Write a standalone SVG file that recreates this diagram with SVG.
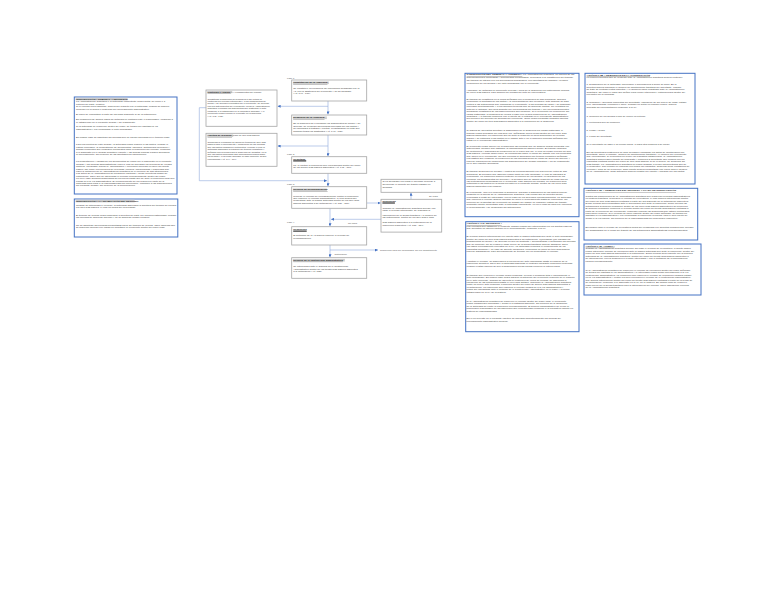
<svg xmlns="http://www.w3.org/2000/svg" width="768" height="594" viewBox="0 0 768 594">
<defs>
<style>
.bb{fill:#fff;stroke:#4472c4;stroke-width:1}
.gb{fill:#fff;stroke:#a6a6a6;stroke-width:0.8}
.t{font-family:"Liberation Sans",Arial,sans-serif;font-size:2.5px;fill:#3a3a3a}
.s{font-size:2.3px}
.h{font-weight:bold;fill:#222}
.u{text-decoration:underline}
.hl{fill:#cfcfcf}
.bar{fill:#111}
.lbl{font-family:"Liberation Sans",Arial,sans-serif;font-size:2.4px;fill:#555}
.c{fill:none;stroke:#8faadc;stroke-width:0.6}
</style>
<marker id="ah" viewBox="0 0 6 6" refX="6" refY="3" markerWidth="3" markerHeight="3" orient="auto" markerUnits="userSpaceOnUse">
<path d="M0,0 L6,3 L0,6 z" fill="#4472c4"/>
</marker>
</defs>
<rect width="768" height="594" fill="#fff"/>

<g id="connectors">
<path class="c" d="M328,101 V114.4" marker-end="url(#ah)"/>
<path class="c" d="M328,106.3 H277.6" marker-end="url(#ah)"/>
<path class="c" d="M328,135 V156.2" marker-end="url(#ah)"/>
<path class="c" d="M328,146 H277.6" marker-end="url(#ah)"/>
<path class="c" d="M206,107.7 H199.3 V180.7 H327" marker-end="url(#ah)"/>
<path class="c" d="M328,173.3 V186.2" marker-end="url(#ah)"/>
<path class="c" d="M330,208.3 V226.2" marker-end="url(#ah)"/>
<path class="c" d="M366.7,203 H380.6" marker-end="url(#ah)"/>
<path class="c" d="M381,219.3 H331" marker-end="url(#ah)"/>
<path class="c" d="M411,199.3 V192.8" marker-end="url(#ah)"/>
<path class="c" d="M330,245 V257.2" marker-end="url(#ah)"/>
<path class="c" d="M330,250 H378" marker-end="url(#ah)"/>
<text class="lbl" x="348" y="224">No logra</text>
<text class="lbl" x="429" y="196.6">Se logra</text>
<text class="lbl" x="334.5" y="254.6">Notificación</text>
<text class="lbl" x="380" y="250.8">Resolución para ser confirmada, No por desistimiento</text>
<text class="lbl" x="287" y="78.6">Fase 1</text>
<text class="lbl" x="287" y="154.6">Fase 2</text>
<text class="lbl" x="287" y="184.6">Fase 3</text>
<text class="lbl" x="287" y="222.8">Fase 4</text>
</g>

<g id="intro-tribunal">
<rect class="bb" x="74.3" y="97" width="102.7" height="97"/>
<rect class="hl" x="75.6" y="97.7" width="52" height="2.6"/>
<text class="t">
<tspan class="h" x="76" y="99.8">INTRODUCCIÓN * TRIBUNAL Y RECURSOS</tspan>
<tspan x="76" y="102.4">La Administración Tributaria o la autoridad competente podrá dictar, de oficio o a</tspan>
<tspan x="76" y="104.8">petición de parte, positivo.</tspan>
<tspan x="76" y="107.2">Si el recurso fuera admitido, deberá ser resuelto por la autoridad, cuando se hubiere</tspan>
<tspan x="76" y="109.6">incurrido en la forma o contenido del procedimiento administrativo.</tspan>
<tspan x="76" y="114.6">El plazo se computará a partir del día hábil siguiente al de la notificación.</tspan>
<tspan x="76" y="120.2">En cualquiera de ambos casos se notificará al contribuyente o responsable, conforme a</tspan>
<tspan x="76" y="122.6">lo establecido en el presente Código y su reglamento.</tspan>
<tspan x="76" y="127.4">Si la autoridad no resolviere dentro del plazo, se tendrá por agotada la vía</tspan>
<tspan x="76" y="129.8">administrativa y por confirmado el acto impugnado.</tspan>
<tspan x="76" y="137.8">En ningún caso se admitirán las pruebas que no fueran ofrecidas en el término legal.</tspan>
<tspan x="76" y="145.4">Para los efectos de este Código, la autoridad podrá requerir a las partes, cuando lo</tspan>
<tspan x="76" y="147.8">estime necesario, la presentación de documentos, informes, dictámenes periciales y</tspan>
<tspan x="76" y="150.2">demás elementos que considere pertinentes para la resolución del recurso, conforme</tspan>
<tspan x="76" y="152.6">a lo dispuesto en el Código Tributario vigente y las demás normas legales aplicables</tspan>
<tspan x="76" y="155">al procedimiento, sin perjuicio de las facultades de fiscalización.</tspan>
<tspan x="76" y="162.4">La presentación y calidad de los documentos se regirá por lo dispuesto en el presente</tspan>
<tspan x="76" y="164.8">Código y las normas administrativas, para lo cual se aplicarán los principios de verdad</tspan>
<tspan x="76" y="167.2">material, oficialidad, buena fe, informalismo y economía procesal en favor del sujeto</tspan>
<tspan x="76" y="169.6">pasivo; así como los principios de celeridad, eficacia, imparcialidad y publicidad que</tspan>
<tspan x="76" y="172">rigen la actuación de la Administración Tributaria en el ejercicio de sus atribuciones.</tspan>
<tspan x="76" y="174.4">Los actos de la Administración se presumen legítimos y serán ejecutivos desde su</tspan>
<tspan x="76" y="176.8">notificación, salvo que se interponga el recurso correspondiente dentro del plazo,</tspan>
<tspan x="76" y="179.2">en cuyo caso quedará suspendida su ejecución hasta que se dicte la resolución final que</tspan>
<tspan x="76" y="181.6">ponga fin a la vía administrativa. El incumplimiento de los plazos por parte de la</tspan>
<tspan x="76" y="184">autoridad dará lugar a la responsabilidad del funcionario, conforme a las disposiciones</tspan>
<tspan x="76" y="186.4">del presente Código, sin perjuicio de la incorporación.</tspan>
</text>
</g>

<g id="intro-tramitacion">
<rect class="bb" x="74.3" y="199" width="103.5" height="38"/>
<rect class="hl" x="75.6" y="199.7" width="59" height="2.6"/>
<text class="t">
<tspan class="h" x="76" y="201.8">INTRODUCCIÓN A LA TRAMITACIÓN DEL RECURSO</tspan>
<tspan x="76" y="205.8">Cuando se interponga el recurso, la autoridad dispondrá la apertura del término de prueba</tspan>
<tspan x="76" y="208.2">por diez días hábiles, el cual no podrá ser prorrogado.</tspan>
<tspan x="76" y="215.8">El término de prueba podrá ampliarse a solicitud de parte por razones justificadas, cuando</tspan>
<tspan x="76" y="218.2">las pruebas se hubieran ofrecido y no se hubieran podido producir.</tspan>
<tspan x="76" y="225.5">No se admitirán las pruebas presentadas fuera del término de prueba, salvo aquellas que</tspan>
<tspan x="76" y="227.9">se hubieran ofrecido por causa no imputable al recurrente dentro del plazo legal.</tspan>
</text>
</g>

<g id="contenido-analisis">
<rect class="gb" x="206" y="90" width="71" height="36.3"/>
<rect class="hl" x="207.2" y="90.8" width="25" height="2.4"/>
<text class="t s">
<tspan class="h u" x="207.5" y="92.6">Contenido y Análisis:</tspan><tspan> (A) Fundamentos del recurso</tspan>
<tspan x="207.5" y="99.6">Constituida la audiencia se procederá a dar lectura al</tspan>
<tspan x="207.5" y="102">contenido del recurso interpuesto y a los fundamentos de</tspan>
<tspan x="207.5" y="104.4">hecho y de derecho expuestos por el recurrente, de acuerdo</tspan>
<tspan x="207.5" y="106.8">con los antecedentes del expediente; luego la Administración</tspan>
<tspan x="207.5" y="109.2">Tributaria expondrá los argumentos que sustentan el acto,</tspan>
<tspan x="207.5" y="111.6">conforme a lo establecido en la normativa aplicable, y el</tspan>
<tspan x="207.5" y="114">recurrente podrá replicar lo expuesto en la audiencia</tspan>
<tspan x="207.5" y="117.4">(Art. 142 - 173).</tspan>
</text>
</g>

<g id="apertura-prueba">
<rect class="gb" x="206" y="133.3" width="71" height="33"/>
<rect class="hl" x="207.2" y="134.5" width="26" height="2.4"/>
<text class="t s">
<tspan class="h u" x="207.5" y="136.3">Apertura de la prueba:</tspan><tspan> Plazo de diez días hábiles</tspan>
<tspan x="207.5" y="143">Concluida la exposición se abrirá un término de diez días</tspan>
<tspan x="207.5" y="145.4">hábiles para el ofrecimiento y producción de las pruebas</tspan>
<tspan x="207.5" y="147.8">que las partes consideren pertinentes, vencido el cual la</tspan>
<tspan x="207.5" y="150.2">autoridad dispondrá la clausura del término probatorio y</tspan>
<tspan x="207.5" y="152.6">señalará nueva fecha para la audiencia de alegatos, en la</tspan>
<tspan x="207.5" y="155">que las partes formularán sus conclusiones finales sobre</tspan>
<tspan x="207.5" y="157.4">los hechos y el derecho aplicable al caso concreto, según</tspan>
<tspan x="207.5" y="159.8">corresponda (Art. 144 - 174).</tspan>
</text>
</g>

<g id="constitucion-audiencia">
<rect class="gb" x="291.7" y="80" width="75" height="21"/>
<rect class="hl" x="292.9" y="81.5" width="36" height="2.6"/>
<text class="t">
<tspan class="h u" x="293.2" y="83.4">Constitución de la Audiencia</tspan>
<tspan x="293.2" y="89.4">Se constituye en presencia del funcionario designado por la</tspan>
<tspan x="293.2" y="91.8">AT, con la asistencia del recurrente y de su abogado</tspan>
<tspan x="293.2" y="94.2">(Art. 140 - 170).</tspan>
</text>
</g>

<g id="desarrollo-audiencia">
<rect class="gb" x="291.7" y="115" width="75" height="20"/>
<rect class="hl" x="292.9" y="116.5" width="34" height="2.6"/>
<text class="t">
<tspan class="h u" x="293.2" y="118.4">Desarrollo de la Audiencia</tspan>
<tspan x="293.2" y="124.4">En la audiencia se expondrán los argumentos de hecho y de</tspan>
<tspan x="293.2" y="126.8">derecho, se recibirán las pruebas ofrecidas por las partes y</tspan>
<tspan x="293.2" y="129.2">se escuchará a testigos y peritos, levantándose un acta que</tspan>
<tspan x="293.2" y="131.6">firmarán todos los asistentes (Art. 143 - 175).</tspan>
</text>
</g>

<g id="resultado">
<rect class="gb" x="291.7" y="156.7" width="75" height="16.6"/>
<rect class="bar" x="293.2" y="160.4" width="13" height="1"/>
<text class="t">
<tspan class="h" x="293.2" y="159.6">Resultado</tspan>
<tspan x="293.2" y="165.6">La AT emitirá la resolución que corresponda dentro del plazo</tspan>
<tspan x="293.2" y="168">de los quince días hábiles siguientes (Art. 145 - 176).</tspan>
</text>
</g>

<g id="recurso-reconsideracion">
<rect class="gb" x="291.7" y="186.7" width="75" height="21.6"/>
<rect class="hl" x="292.9" y="188.5" width="34" height="2.6"/>
<text class="t">
<tspan class="h u" x="293.2" y="190.4">Recurso de Reconsideración</tspan>
<tspan x="293.2" y="196.6">Procede el recurso de reconsideración contra la resolución</tspan>
<tspan x="293.2" y="199">que resuelve el recurso administrativo, el cual deberá ser</tspan>
<tspan x="293.2" y="201.4">presentado ante la misma autoridad dentro de los diez días</tspan>
<tspan x="293.2" y="203.8">hábiles siguientes a su notificación (Art. 180 - 181).</tspan>
</text>
</g>

<g id="resolucion-fase4">
<rect class="gb" x="291.7" y="226.7" width="75" height="18.3"/>
<rect class="bar" x="293.2" y="230.6" width="13.5" height="1"/>
<text class="t">
<tspan class="h" x="293.2" y="229.8">Resolución</tspan>
<tspan x="293.2" y="236">El dictamen de la AT deberá resolver el recurso de</tspan>
<tspan x="293.2" y="238.6">reconsideración.</tspan>
</text>
</g>

<g id="contencioso-administrativo">
<rect class="gb" x="291.7" y="257.7" width="75" height="20.6"/>
<rect class="hl" x="292.9" y="258.9" width="52" height="2.6"/>
<text class="t">
<tspan class="h u" x="293.2" y="260.8">Recurso de lo contencioso administrativo</tspan>
<tspan x="293.2" y="267.2">Se interpondrá ante el Tribunal de lo Contencioso</tspan>
<tspan x="293.2" y="269.6">Administrativo dentro de los treinta días hábiles siguientes</tspan>
<tspan x="293.2" y="272">a la notificación (Art. 182).</tspan>
</text>
</g>

<g id="declarado-con-lugar">
<rect class="gb" x="381" y="179.3" width="60.7" height="13"/>
<text class="t">
<tspan x="382.4" y="182.2">Si es declarado con lugar el Recurso procede a</tspan>
<tspan x="382.4" y="184.6">devolverse el importe del tributo pagado en</tspan>
<tspan x="382.4" y="188">demasía.</tspan>
</text>
</g>

<g id="resolucion-recurso">
<rect class="gb" x="381" y="199.3" width="60.7" height="32.8"/>
<rect class="bar" x="382.4" y="202.5" width="12.5" height="1"/>
<text class="t">
<tspan class="h" x="382.4" y="201.7">Resolución</tspan>
<tspan x="382.4" y="209">Cuando la Administración Tributaria declare con</tspan>
<tspan x="382.4" y="211.4">lugar el recurso interpuesto, se ordenará la</tspan>
<tspan x="382.4" y="216">cancelación de la deuda tributaria y el archivo de</tspan>
<tspan x="382.4" y="218.4">las actuaciones, dentro de los diez días o más</tspan>
<tspan x="382.4" y="223.4">días hábiles siguientes a la notificación de la</tspan>
<tspan x="382.4" y="225.8">resolución respectiva (Art. 183 - 184).</tspan>
</text>
</g>

<g id="constitucion-tribunal">
<rect class="bb" x="465" y="73.3" width="114" height="143.4"/>
<text class="t">
<tspan class="h u" x="466.6" y="75.2">CONSTITUCIÓN DEL TRIBUNAL Y AUDIENCIA:</tspan><tspan> La Administración Tributaria, en función de las</tspan>
<tspan x="466.6" y="77.6">determinaciones efectuadas y documentos presentados, procederá a la constitución del tribunal.</tspan>
<tspan x="466.6" y="81.2">Tal tribunal se integra con los funcionarios designados, con facultades de análisis y revisión</tspan>
<tspan x="466.6" y="83.6">verificación de los hechos y del acto impugnado por el recurrente.</tspan>
<tspan x="466.6" y="90.8">Asimismo, se notificará al recurrente la fecha y hora de la audiencia con anticipación mínima</tspan>
<tspan x="466.6" y="93.2">de cinco días hábiles, bajo sanción de nulidad del acto de convocatoria.</tspan>
<tspan x="466.6" y="99.8">El tribunal se constituirá en la fecha señalada con la presencia de sus miembros, quienes</tspan>
<tspan x="466.6" y="102.25">verificarán la identidad de las partes y la representación que invoquen; acto seguido se dará</tspan>
<tspan x="466.6" y="104.7">lectura a las actuaciones que conforman el expediente, a las pruebas de cargo y de descargo</tspan>
<tspan x="466.6" y="107.15">ofrecidas oportunamente y a los informes técnicos que se hubieran emitido. Se levantará un</tspan>
<tspan x="466.6" y="109.6">acta de lo actuado, que será suscrita por los miembros del tribunal y por los comparecientes,</tspan>
<tspan x="466.6" y="112.05">dejándose constancia de las observaciones que formulen. Si el recurrente no concurriere sin</tspan>
<tspan x="466.6" y="114.5">causa justificada, la audiencia se llevará a cabo con la sola presencia de la Administración</tspan>
<tspan x="466.6" y="116.95">Tributaria, y el tribunal resolverá con el mérito de lo actuado en el expediente administrativo,</tspan>
<tspan x="466.6" y="119.4">sin perjuicio del derecho de defensa del recurrente, quien podrá presentar alegatos escritos</tspan>
<tspan x="466.6" y="121.85">dentro del plazo de tres días hábiles siguientes a la realización de la audiencia.</tspan>
<tspan x="466.6" y="131.4">Si alguna de las partes solicitare la suspensión de la audiencia por causa justificada, el</tspan>
<tspan x="466.6" y="133.85">tribunal podrá acordarla por una sola vez, señalando nueva fecha dentro de los cinco días</tspan>
<tspan x="466.6" y="136.3">hábiles siguientes. La resolución que se dicte al respecto no será susceptible de recurso</tspan>
<tspan x="466.6" y="138.75">alguno y se notificará a las partes en el mismo acto o en el domicilio procesal señalado por</tspan>
<tspan x="466.6" y="141.2">estas en el expediente administrativo.</tspan>
<tspan x="466.6" y="146.8">El recurrente podrá ofrecer en la audiencia las pruebas que no hubiera podido presentar con</tspan>
<tspan x="466.6" y="149.25">anterioridad, siempre que justifique la imposibilidad de haberlo hecho. El tribunal calificará</tspan>
<tspan x="466.6" y="151.7">su pertinencia y dispondrá su producción en el plazo que fije, el cual no podrá exceder de diez</tspan>
<tspan x="466.6" y="154.15">días hábiles. Vencido dicho plazo, se pronunciará sobre el fondo del asunto con los elementos</tspan>
<tspan x="466.6" y="156.6">que obren en el expediente, sin que proceda la ampliación del término probatorio señalado.</tspan>
<tspan x="466.6" y="159.05">Los gastos que ocasione la producción de las pruebas serán de cargo de quien las ofrezca, y</tspan>
<tspan x="466.6" y="161.5">para su realización se observarán las disposiciones del Código Tributario y de su reglamento</tspan>
<tspan x="466.6" y="163.95">en lo que resulten aplicables.</tspan>
<tspan x="466.6" y="172.2">El tribunal deliberará en privado y emitirá su pronunciamiento por mayoría de votos de sus</tspan>
<tspan x="466.6" y="174.65">miembros. El miembro que discrepe podrá emitir su voto razonado, el cual se agregará al</tspan>
<tspan x="466.6" y="177.1">expediente. La resolución deberá contener la relación de los hechos, la valoración de las</tspan>
<tspan x="466.6" y="179.55">pruebas, los fundamentos de derecho y la decisión que se adopte respecto de cada una de</tspan>
<tspan x="466.6" y="182">las pretensiones formuladas por el recurrente, bajo sanción de nulidad. La resolución será</tspan>
<tspan x="466.6" y="184.45">notificada a las partes en la forma prevista en el presente Código, dentro de los cinco días</tspan>
<tspan x="466.6" y="186.9">hábiles siguientes a su emisión.</tspan>
<tspan x="466.6" y="193">El expediente, una vez concluida la audiencia, quedará a disposición de las partes para su</tspan>
<tspan x="466.6" y="195.45">consulta en la oficina de la Administración Tributaria. Las copias que se soliciten serán</tspan>
<tspan x="466.6" y="197.9">expedidas a costa del interesado, previo pago de los derechos correspondientes. La autoridad</tspan>
<tspan x="466.6" y="200.35">que conozca el recurso deberá impulsar de oficio el procedimiento hasta su conclusión, sin</tspan>
<tspan x="466.6" y="202.8">perjuicio de la facultad del recurrente de desistir del mismo en cualquier estado del trámite,</tspan>
<tspan x="466.6" y="205.25">mediante escrito presentado ante la autoridad competente, en cuyo caso se dará por concluido</tspan>
<tspan x="466.6" y="207.7">el procedimiento y se archivarán las actuaciones.</tspan>
</text>
</g>

<g id="articulo-146">
<rect class="bb" x="465.7" y="221.7" width="113.3" height="110"/>
<text class="t">
<tspan class="h u" x="466.6" y="224.2">ARTÍCULO 146. RECURSOS *</tspan>
<tspan x="466.6" y="226.8">Los recursos que establece el presente Código podrán ser interpuestos por los sujetos pasivos</tspan>
<tspan x="466.6" y="229.2">que acrediten un interés legítimo en el procedimiento, conforme a la ley.</tspan>
<tspan x="466.6" y="237.4">El recurso deberá interponerse por escrito ante la misma autoridad que dictó el acto impugnado,</tspan>
<tspan x="466.6" y="239.85">dentro del plazo de diez días hábiles siguientes a su notificación, expresando con claridad los</tspan>
<tspan x="466.6" y="242.3">fundamentos de hecho y de derecho en que se sustenta y acompañando o señalando las pruebas</tspan>
<tspan x="466.6" y="244.75">que se ofrezcan. No se exigirá el pago previo de la deuda tributaria para su admisión, salvo</tspan>
<tspan x="466.6" y="247.2">los casos expresamente previstos en la ley. La autoridad verificará el cumplimiento de los</tspan>
<tspan x="466.6" y="249.65">requisitos formales y, en caso de advertir omisiones, concederá un plazo de tres días hábiles</tspan>
<tspan x="466.6" y="252.1">para su subsanación, bajo apercibimiento de tenerse por no presentado el recurso.</tspan>
<tspan x="466.6" y="262">Admitido el recurso, se suspenderá la ejecución del acto impugnado hasta la emisión de la</tspan>
<tspan x="466.6" y="264.45">resolución definitiva, salvo que la autoridad disponga lo contrario mediante resolución motivada,</tspan>
<tspan x="466.6" y="266.9">cuando existan indicios de que la suspensión pueda causar perjuicio al interés fiscal.</tspan>
<tspan x="466.6" y="275.6">El tribunal que conozca el recurso podrá confirmar, revocar o modificar total o parcialmente el</tspan>
<tspan x="466.6" y="278.05">acto impugnado. En ningún caso podrá agravar la situación del recurrente respecto de lo resuelto</tspan>
<tspan x="466.6" y="280.5">en el acto recurrido. Cuando se advierta la existencia de vicios de nulidad, se dispondrá la</tspan>
<tspan x="466.6" y="282.95">reposición de las actuaciones hasta el vicio más antiguo, debiendo la Administración Tributaria</tspan>
<tspan x="466.6" y="285.4">emitir un nuevo acto conforme a derecho dentro del plazo de quince días hábiles siguientes a</tspan>
<tspan x="466.6" y="287.85">la notificación. La resolución que resuelva el recurso pondrá fin a la vía administrativa y</tspan>
<tspan x="466.6" y="290.3">podrá ser impugnada ante el Tribunal de lo Contencioso Administrativo en el plazo y la forma</tspan>
<tspan x="466.6" y="292.75">establecidos en la ley de la materia.</tspan>
<tspan x="466.6" y="301.8">Si la Administración Tributaria no resolviere el recurso dentro del plazo legal, el recurrente</tspan>
<tspan x="466.6" y="304.25">podrá considerarlo denegado y acudir a la instancia siguiente, sin perjuicio de la obligación</tspan>
<tspan x="466.6" y="306.7">de la autoridad de emitir la resolución correspondiente. El silencio administrativo no exime al</tspan>
<tspan x="466.6" y="309.15">funcionario responsable de las sanciones que correspondan conforme a la normativa vigente en</tspan>
<tspan x="466.6" y="311.6">materia de responsabilidad.</tspan>
<tspan x="466.6" y="319.4">En lo no previsto en el presente capítulo se aplicarán supletoriamente las normas del</tspan>
<tspan x="466.6" y="321.85">procedimiento administrativo general.</tspan>
</text>
</g>

<g id="articulo-28">
<rect class="bb" x="585" y="73.3" width="110" height="110.7"/>
<text class="t">
<tspan class="h u" x="586.6" y="75.5">ARTÍCULO 28. * REQUISITOS DE LA CONTESTACIÓN</tspan>
<tspan x="586.6" y="78">La primera solicitud que se presente ante la Administración Tributaria deberá contener:</tspan>
<tspan x="586.6" y="85.4">1. Designación de la autoridad, funcionario o dependencia a quien se dirija. En la</tspan>
<tspan x="586.6" y="87.85">solicitud deberá indicarse el número de identificación tributaria del solicitante, cuando</tspan>
<tspan x="586.6" y="90.3">se trate de contribuyentes inscritos, y el domicilio fiscal registrado ante la Administración</tspan>
<tspan x="586.6" y="92.75">Tributaria, así como el lugar que señale para recibir citaciones y notificaciones dentro del</tspan>
<tspan x="586.6" y="95.2">perímetro de la localidad.</tspan>
<tspan x="586.6" y="102.8">2. Nombres y apellidos completos del solicitante, indicación de ser mayor de edad, estado</tspan>
<tspan x="586.6" y="105.25">civil, nacionalidad, profesión u oficio. Cuando no actúe en nombre propio, deberá</tspan>
<tspan x="586.6" y="107.7">acreditar su representación conforme a la ley.</tspan>
<tspan x="586.6" y="116.7">3. Relación de los hechos a que se refiere la petición.</tspan>
<tspan x="586.6" y="123.3">4. Peticiones que se formulen.</tspan>
<tspan x="586.6" y="130.5">5. Lugar y fecha.</tspan>
<tspan x="586.6" y="137.2">6. Firma del solicitante.</tspan>
<tspan x="586.6" y="144.5">Si el solicitante no sabe o no puede firmar, lo hará otra persona a su ruego.</tspan>
<tspan x="586.6" y="152.5">En las solicitudes posteriores no será necesario consignar los datos de identificación del</tspan>
<tspan x="586.6" y="154.95">solicitante, salvo el nombre, número de identificación tributaria y el número del expediente</tspan>
<tspan x="586.6" y="157.4">que corresponda. Si la solicitud no reúne los requisitos establecidos, la Administración</tspan>
<tspan x="586.6" y="159.85">Tributaria deberá darle trámite de inmediato y requerirá al solicitante que cumpla con los</tspan>
<tspan x="586.6" y="162.3">requisitos omitidos dentro del plazo de diez días hábiles; si no lo hiciere, se archivará sin</tspan>
<tspan x="586.6" y="164.75">más trámite. La Administración Tributaria no podrá negarse a recibir las solicitudes que se</tspan>
<tspan x="586.6" y="167.2">le presenten, aun cuando no cumplan con todos los requisitos, debiendo dejar constancia de</tspan>
<tspan x="586.6" y="169.65">la fecha y hora de su recepción. Todo escrito deberá presentarse con copia para el archivo</tspan>
<tspan x="586.6" y="172.1">de la Administración. Toda actuación deberá constar por escrito y firmarse por las partes.</tspan>
</text>
</g>

<g id="articulo-29">
<rect class="bb" x="584" y="188.3" width="113.7" height="51.7"/>
<text class="t">
<tspan class="h u" x="585.6" y="191.2">ARTÍCULO 29. * TRIBUNALES DEL RECURSO Y PLAZO DE INTERPOSICIÓN</tspan>
<tspan x="585.6" y="196.8">Contra las resoluciones de la Administración Tributaria que resuelvan recursos administrativos</tspan>
<tspan x="585.6" y="199.25">en materia tributaria, procederá el recurso de revocatoria, el cual deberá interponerse dentro</tspan>
<tspan x="585.6" y="201.7">del plazo de diez días hábiles contados a partir del día siguiente de la notificación respectiva.</tspan>
<tspan x="585.6" y="204.15">Dicho recurso será presentado ante el funcionario que dictó la resolución, quien elevará las</tspan>
<tspan x="585.6" y="206.6">actuaciones al superior jerárquico dentro de los cinco días hábiles siguientes a su recepción.</tspan>
<tspan x="585.6" y="209.05">El superior jerárquico resolverá el recurso dentro del plazo de treinta días hábiles contados a</tspan>
<tspan x="585.6" y="211.5">partir de la recepción del expediente, pudiendo ordenar las diligencias que estime pertinentes</tspan>
<tspan x="585.6" y="213.95">para mejor resolver. Si el recurso no fuere resuelto dentro del plazo señalado, se tendrá por</tspan>
<tspan x="585.6" y="216.4">agotada la vía administrativa y por confirmada la resolución recurrida, para el solo efecto de</tspan>
<tspan x="585.6" y="218.85">acudir a la vía judicial, sin perjuicio de la responsabilidad del funcionario respectivo.</tspan>
<tspan x="585.6" y="228.4">En ningún caso el recurso de revocatoria podrá ser rechazado por defectos formales que puedan</tspan>
<tspan x="585.6" y="230.85">ser subsanados en el curso del trámite de las actuaciones administrativas correspondientes.</tspan>
</text>
</g>

<g id="articulo-30">
<rect class="bb" x="584" y="244" width="117" height="51"/>
<text class="t">
<tspan class="h u" x="585.6" y="246.8">ARTÍCULO 30. Alcance *</tspan>
<tspan x="585.6" y="249.3">Cuando la Administración Tributaria declare sin lugar el recurso de revocatoria, el sujeto pasivo</tspan>
<tspan x="585.6" y="251.75">podrá interponer recurso de reposición ante la misma autoridad que dictó la resolución, dentro del</tspan>
<tspan x="585.6" y="254.2">plazo de diez días hábiles siguientes a la notificación. Dicho recurso será resuelto por la máxima</tspan>
<tspan x="585.6" y="256.65">autoridad de la Administración Tributaria, dentro del plazo de treinta días hábiles siguientes a</tspan>
<tspan x="585.6" y="259.1">su interposición, previa audiencia a la parte interesada y con el dictamen de la dependencia</tspan>
<tspan x="585.6" y="261.55">jurídica correspondiente.</tspan>
<tspan x="585.6" y="271">Si la Administración Tributaria no resolviere el recurso de reposición dentro del plazo señalado,</tspan>
<tspan x="585.6" y="273.45">se tendrá por agotada la vía administrativa y el interesado podrá acudir directamente a la vía</tspan>
<tspan x="585.6" y="275.9">contencioso administrativa. La resolución que resuelva el recurso de reposición causará estado</tspan>
<tspan x="585.6" y="278.35">en la vía administrativa y contra ella solo procederá el recurso de lo contencioso administrativo,</tspan>
<tspan x="585.6" y="280.8">que deberá interponerse dentro del plazo de treinta días hábiles contados a partir de la fecha de</tspan>
<tspan x="585.6" y="283.25">su notificación, conforme a lo dispuesto en la ley de la materia. En ningún caso se exigirá el</tspan>
<tspan x="585.6" y="285.7">pago previo de la deuda tributaria para la interposición del recurso, salvo disposición expresa</tspan>
<tspan x="585.6" y="288.15">de la Administración Tributaria.</tspan>
</text>
</g>
</svg>
